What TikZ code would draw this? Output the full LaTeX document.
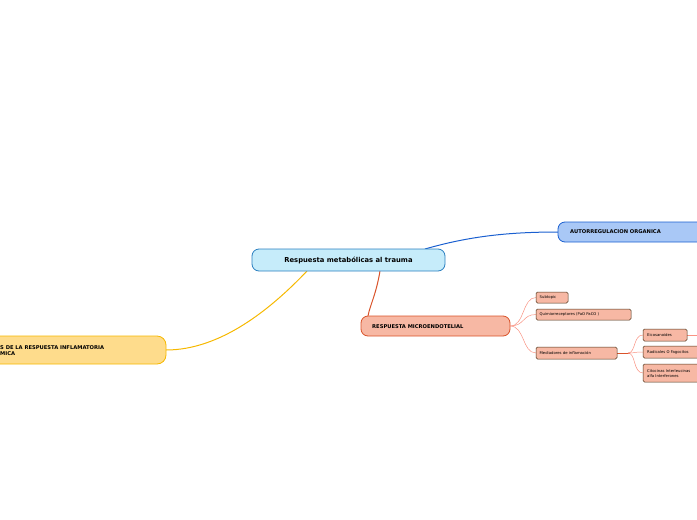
\documentclass[tikz,border=0pt]{standalone}
\usepackage{fontspec}
\setmainfont{DejaVu Sans}
\begin{document}
\begin{tikzpicture}[x=1pt,y=-1pt,
 box/.style={rounded corners=#1,line width=0.8pt,inner sep=0pt},
 t/.style={font=\bfseries\fontsize{5.2}{6}\selectfont,anchor=west,align=left,inner sep=0pt},
 s/.style={font=\fontsize{3.8}{4.6}\selectfont,anchor=west,align=left,inner sep=0pt},
 sub/.style={draw=black!60!brown,fill=salm,rounded corners=1.5pt,line width=0.5pt},
 thin/.style={draw=salm!80!red,line width=0.5pt}]
\definecolor{salm}{HTML}{F7B8A4}
\useasboundingbox (0,0) rectangle (697,520);
\clip (0,0) rectangle (697,520);
% connectors
\coordinate (m1) at (425,249); \coordinate (a1) at (558,232);
\draw[draw={rgb,255:red,26;green,95;blue,208},line width=1pt] (m1) .. controls (470,236) and (510,232) .. (a1);
\coordinate (m2) at (307,271); \coordinate (y1) at (166,350);
\draw[draw={rgb,255:red,246;green,184;blue,0},line width=1pt] (m2) .. controls (270,310) and (220,350) .. (y1);
\coordinate (m3) at (380,271); \coordinate (r1) at (368,316);
\draw[draw={rgb,255:red,217;green,83;blue,42},line width=1pt] (m3) .. controls (376,295) and (370,305) .. (r1);
% main
\draw[box=7pt,draw={rgb,255:red,42;green,127;blue,192},fill={rgb,255:red,198;green,236;blue,250}] (252,249) rectangle (445,271);
\node[font=\bfseries\fontsize{6.8}{8}\selectfont] (main) at (348.5,260.5) {Respuesta metabólicas al trauma};
\draw[box=7pt,draw={rgb,255:red,26;green,95;blue,208},fill={rgb,255:red,169;green,200;blue,246}] (558,222) rectangle (720,242);
\node[t] (auto) at (570,232) {AUTORREGULACION ORGANICA};
\draw[box=9pt,draw={rgb,255:red,246;green,184;blue,0},fill={rgb,255:red,254;green,220;blue,140}] (-20,336) rectangle (166,364);
\node[t] (yel) at (0,350.5) {S DE LA RESPUESTA INFLAMATORIA\\MICA};
\draw[box=7pt,draw={rgb,255:red,217;green,83;blue,42},fill=salm] (361,316) rectangle (510,336);
\node[t] (micro) at (372,326.5) {RESPUESTA MICROENDOTELIAL};
% level 2 connectors
\coordinate (r2) at (510,326);
\foreach \yy in {297.5,314.5,353} \draw[thin] (r2) .. controls (525,326) and (522,\yy) .. (536,\yy);
\coordinate (md) at (617,353);
\draw[draw={rgb,255:red,217;green,83;blue,42},line width=0.7pt] (md) -- (630,353);
\foreach \yy in {335,352,373} \draw[thin] (628,353) .. controls (636,353) and (633,\yy) .. (643,\yy);
\draw[thin] (687,335) -- (697,335);
% level 2 nodes
\draw[sub] (536,292) rectangle (568,303); \node[s] (st) at (539.5,297.8) {Subtopic};
\draw[sub] (536,309) rectangle (631,320); \node[s] (qu) at (539.5,314.8) {Quimiorreceptores (PaO PaCO )};
\draw[sub] (536,347) rectangle (617,359); \node[s] (me) at (539.5,353.3) {Mediadores de inflamación};
\draw[sub] (643,329) rectangle (687,341); \node[s] (ei) at (647,335.3) {Eicosanoides};
\draw[sub] (643,346) rectangle (705,358); \node[s] (ra) at (647,352.3) {Radicales O Fagocitos};
\draw[sub] (643,364) rectangle (705,382); \node[s] (ci) at (647,373.3) {Citocinas Interleucinas\\alfa Interferones};
\end{tikzpicture}
\end{document}
